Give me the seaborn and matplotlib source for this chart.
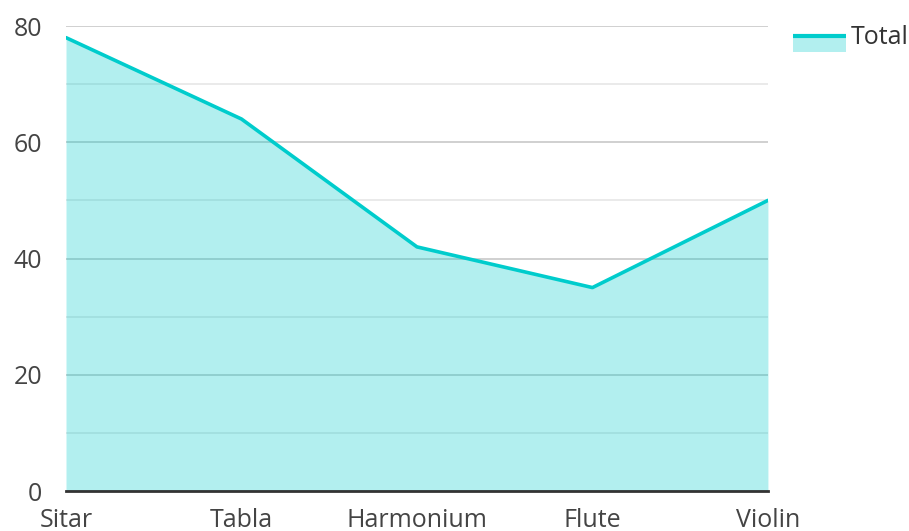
import seaborn as sns
import matplotlib.pyplot as plt
import pandas as pd
from matplotlib.patches import Rectangle
from matplotlib.lines import Line2D
from matplotlib.legend_handler import HandlerBase
from matplotlib.ticker import MultipleLocator

instruments = ["Sitar", "Tabla", "Harmonium", "Flute", "Violin"]
totals = [78, 64, 42, 35, 50]

line_color = "#00cccc"
fill_color = "#00cccc"
font_size = 18


class AreaHandler(HandlerBase):
    # legend key: light filled box with the line along its top edge
    def create_artists(self, legend, orig, xd, yd, w, h, fontsize, trans):
        box = Rectangle((xd, yd - h * 0.45), w, h * 0.95, facecolor=fill_color,
                        alpha=0.3, edgecolor="none", transform=trans)
        top = Line2D([xd, xd + w], [yd + h * 0.45, yd + h * 0.45], color=line_color,
                     lw=3, solid_capstyle="butt", transform=trans)
        return [box, top]


def main():
    sns.set_style("white")
    plt.rcParams["font.family"] = ["Open Sans", "DejaVu Sans"]

    df = pd.DataFrame({"instrument": instruments, "total": totals})

    fig = plt.figure(figsize=(9.09, 5.31), dpi=100)
    ax = fig.add_axes([0.0726, 0.0753, 0.7722, 0.8757])

    ax.fill_between(range(len(df)), df["total"], color=fill_color, alpha=0.3, lw=0, zorder=2)
    sns.lineplot(data=df, x="instrument", y="total", ax=ax, color=line_color, lw=2.6,
                 zorder=3, sort=False)

    ax.set_xlim(0, len(df) - 1)
    ax.set_ylim(0, 80)
    ax.yaxis.set_major_locator(MultipleLocator(20))
    ax.yaxis.set_minor_locator(MultipleLocator(10))
    ax.grid(True, which="major", axis="y", color="#c8c8c8", lw=1.2, zorder=1)
    ax.grid(True, which="minor", axis="y", color="#e6e6e6", lw=1.2, zorder=1)
    ax.grid(False, axis="x")
    ax.set_axisbelow(True)

    sns.despine(ax=ax, left=True)
    ax.spines["bottom"].set_color("#333333")
    ax.spines["bottom"].set_linewidth(2)
    ax.spines["bottom"].set_zorder(4)

    ax.tick_params(axis="both", which="both", length=0, labelsize=font_size, labelcolor="#444444")
    ax.tick_params(axis="x", pad=12)
    ax.tick_params(axis="y", pad=17)
    ax.set_xlabel(None)
    ax.set_ylabel(None)

    ax.legend(handles=[Rectangle((0, 0), 1, 1)], labels=["Total"],
              handler_map={Rectangle: AreaHandler()}, loc="upper left",
              bbox_to_anchor=(793 / 909, 1 - 25 / 531), bbox_transform=fig.transFigure,
              frameon=False, fontsize=font_size, borderpad=0, borderaxespad=0,
              handlelength=2.1, handletextpad=0.22, labelcolor="#333333")

    fig.savefig("out.png", dpi=100)


main()
